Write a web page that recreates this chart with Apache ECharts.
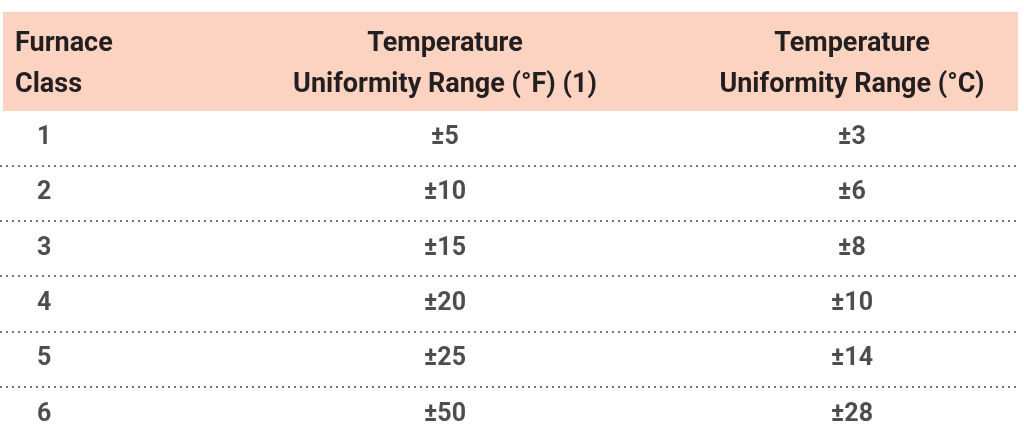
<!DOCTYPE html><html><head><meta charset="utf-8"><style>html,body{margin:0;background:#fff}#c{width:1024px;height:447px}</style>
<script src="https://cdn.jsdelivr.net/npm/echarts@6/dist/echarts.min.js"></script></head><body><div id="c"></div><script>
const classes=['1','2','3','4','5','6'];
const rangeF=['±5','±10','±15','±20','±25','±50'];
const rangeC=['±3','±6','±8','±10','±14','±28'];
const headers=['Furnace\nClass','Temperature\nUniformity Range (°F) (1)','Temperature\nUniformity Range (°C)'];
const colX=[37,445,852];
const font='Roboto, "Noto Sans", sans-serif';
const ch=echarts.init(document.getElementById('c'));
function ser(vals,i,align){return{type:'scatter',symbolSize:0,data:vals.map((v,r)=>({value:[colX[i],classes[r]],name:v})),
label:{show:true,position:'inside',formatter:p=>p.name,align:align,color:'#231f20',fontSize:25,fontWeight:'bold',fontFamily:font},silent:true};}
ch.setOption({animation:false,
grid:{left:0,right:4,top:110,bottom:5},
xAxis:{type:'value',min:0,max:1020,show:false},
yAxis:{type:'category',data:classes,inverse:true,axisLine:{show:false},axisTick:{show:false},axisLabel:{show:false},
splitLine:{show:true,lineStyle:{color:'#777',width:2,type:[2,4]}}},
graphic:[{type:'rect',shape:{x:0,y:100,width:3,height:14},style:{fill:'#fff'},z:10},
{type:'rect',shape:{x:3,y:12,width:1015,height:99},style:{fill:'#fbd3c0'},z:10},
{type:'rect',shape:{x:0,y:438,width:1024,height:9},style:{fill:'#fff'},z:10},
{type:'text',left:15,top:24,z:11,style:{text:headers[0],font:'bold 27px '+font,fill:'#231f20',lineHeight:41}},
{type:'text',x:445,y:24,z:11,style:{text:headers[1],font:'bold 27px '+font,fill:'#231f20',textAlign:'center',lineHeight:41}},
{type:'text',x:852,y:24,z:11,style:{text:headers[2],font:'bold 27px '+font,fill:'#231f20',textAlign:'center',lineHeight:41}}],
series:[ser(classes,0,'left'),ser(rangeF,1,'center'),ser(rangeC,2,'center')]});
</script></body></html>
